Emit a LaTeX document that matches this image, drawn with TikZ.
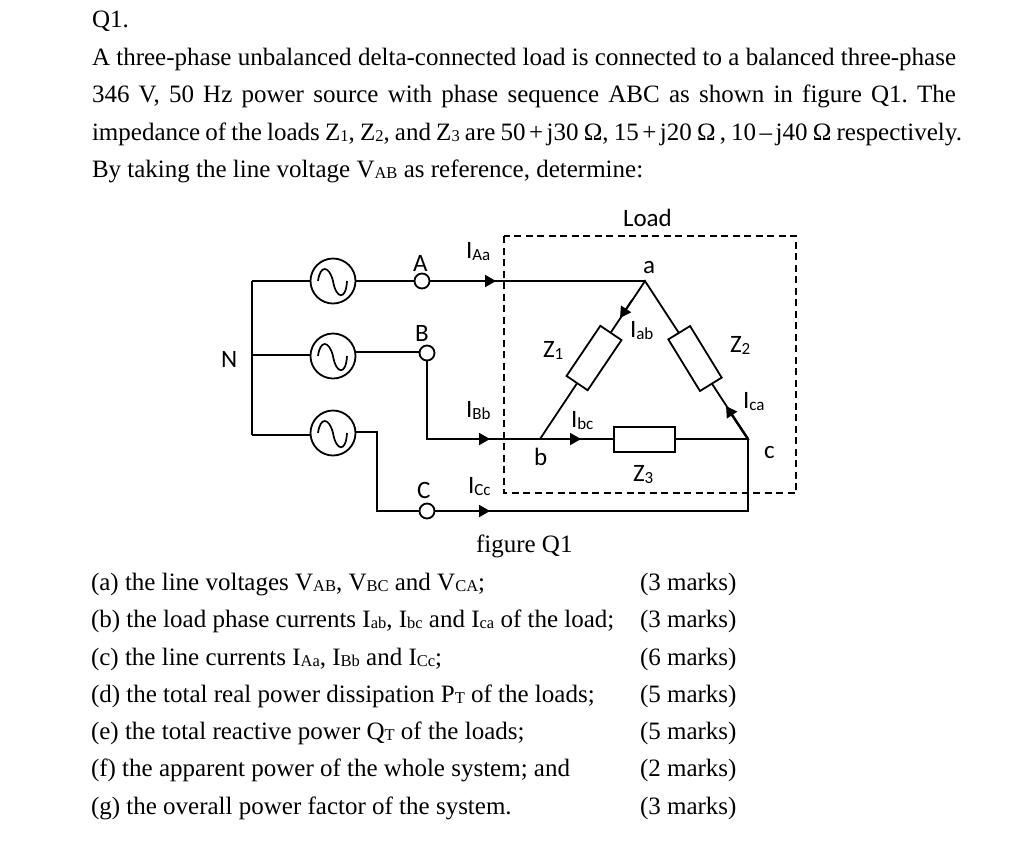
\documentclass[tikz,border=0pt]{standalone}
\usepackage{fontspec}
\setmainfont{Liberation Serif}
\newfontfamily\labelfont{Carlito}
\usetikzlibrary{arrows.meta}
\frenchspacing
\newcommand{\lowtxt}[1]{\raisebox{-1pt}{\fontsize{16.5}{16.5}\selectfont #1}}
\newcommand{\lowlab}[1]{\raisebox{-2.5pt}{\fontsize{17}{17}\selectfont #1}}
\newcommand{\js}[2]{\makebox[#1pt][s]{#2}}
\newcommand{\tsp}{\hspace{3.5pt}}
\tikzset{
  x=1pt,y=-1pt,
  body/.style={inner sep=0,outer sep=0,anchor=base west,font=\fontsize{25}{25}\selectfont},
  lab/.style={inner sep=0,outer sep=0,anchor=base west,font=\labelfont\fontsize{25}{25}\selectfont},
  wire/.style={line width=1.8pt,line join=miter},
  src/.style={draw,circle,line width=1.8pt,minimum size=45pt,inner sep=0,outer sep=0},
  term/.style={draw,circle,line width=1.8pt,minimum size=15pt,inner sep=0,outer sep=0,fill=white},
  res/.style={draw,rectangle,line width=1.8pt,inner sep=0,outer sep=0,fill=white},
  tipped/.style={line width=1.8pt,-{Triangle[length=11pt,width=12pt]}},
  sine/.style={line width=1.7pt},
  loadbox/.style={draw,line width=1.5pt,dash pattern=on 7pt off 4.5pt},
}
\begin{document}
\begin{tikzpicture}
\useasboundingbox (0,0) rectangle (1024,855);
\fill[white] (0,0) rectangle (1024,855);
% text
\node[body] (t0) at (92,27) {Q1.};
\node[body] (t1) at (92,65) {\js{864}{A three-phase unbalanced delta-connected load is connected to a balanced three-phase}};
\node[body] (t2) at (92,102) {\js{864}{346 V, 50 Hz power source with phase sequence ABC as shown in figure Q1. The}};
\node[body] (t3) at (92,140) {\spaceskip=5pt plus 5pt minus 2pt\js{870}{impedance of the loads Z\lowtxt{1}, Z\lowtxt{2}, and Z\lowtxt{3} are 50\tsp+\tsp j30 Ω, 15\tsp+\tsp j20 Ω\,, 10\tsp–\tsp j40 Ω respectively.}};
\node[body] (t4) at (92,177) {By taking the line voltage V\lowtxt{AB} as reference, determine:};
\node[body] (fig) at (476,552) {figure Q1};
\node[body] (qa) at (91,590) {(a) the line voltages V\lowtxt{AB}, V\lowtxt{BC} and V\lowtxt{CA};};
\node[body] (qb) at (91,627) {(b) the load phase currents I\lowtxt{ab}, I\lowtxt{bc} and I\lowtxt{ca} of the load;};
\node[body] (qc) at (91,665) {(c) the line currents I\lowtxt{Aa}, I\lowtxt{Bb} and I\lowtxt{Cc};};
\node[body] (qd) at (91,702) {(d) the total real power dissipation P\lowtxt{T} of the loads;};
\node[body] (qe) at (91,739) {(e) the total reactive power Q\lowtxt{T} of the loads;};
\node[body] (qf) at (91,776) {(f) the apparent power of the whole system; and};
\node[body] (qg) at (91,814) {(g) the overall power factor of the system.};
\node[body] (ma) at (640,590) {(3 marks)};
\node[body] (mb) at (640,627) {(3 marks)};
\node[body] (mc) at (640,665) {(6 marks)};
\node[body] (md) at (640,702) {(5 marks)};
\node[body] (me) at (640,739) {(5 marks)};
\node[body] (mf) at (640,776) {(2 marks)};
\node[body] (mg) at (640,814) {(3 marks)};
% load box
\draw[loadbox] (504,236) rectangle (796,493);
% junctions
\coordinate (busA) at (252,281);
\coordinate (busB) at (252,355);
\coordinate (busC) at (252,435);
\coordinate (a) at (645,281);
\coordinate (b) at (540,439);
\coordinate (c) at (748,439);
\coordinate (cd) at (748,511);
\coordinate (kC1) at (377,432);
\coordinate (kC2) at (377,511);
\coordinate (kB) at (427,439);
\coordinate (kBr) at (400,352);
% sources and terminals
\node[src] (sA) at (333,281) {};
\node[src] (sB) at (333,356) {};
\node[src] (sC) at (333,433) {};
\foreach \s in {sA,sB,sC}{
  \draw[sine] ([shift={(-15,0)}]\s.center) .. controls ([shift={(-13,-16)}]\s.center) and ([shift={(-4,-16)}]\s.center) .. ([shift={(0,0)}]\s.center)
     .. controls ([shift={(3,18)}]\s.center) and ([shift={(13,20)}]\s.center) .. ([shift={(14,0)}]\s.center);
}
\node[term] (tA) at (422,281) {};
\node[term] (tB) at (427,353) {};
\node[term] (tC) at (427,511) {};
% wires
\draw[wire] (busA) -- (busC);
\draw[wire] (busA) -- (sA.west);
\draw[wire] (busB) -- (sB.west |- busB);
\draw[wire] (busC) -- (sC.west |- busC);
\draw[wire] (sA.east) -- (tA.west);
\draw[wire] (sB.east |- kBr) -- (tB.west |- kBr);
\draw[wire] (tB.south) -- (kB) -- (b);
\draw[wire] (sC.east |- kC1) -- (kC1) -- (kC2) -- (tC.west);
\draw[wire] (tC.east) -- (kC2 -| cd) -- (cd) -- (c);
\draw[wire] (tA.east) -- (a);
% delta
\draw[wire] (a) -- (b) -- (c) -- cycle;
\node[res,minimum width=60.5pt,minimum height=25.5pt,rotate=56] (Z1) at (594,358) {};
\node[res,minimum width=60.5pt,minimum height=25.5pt,rotate=-58.5] (Z2) at (695,358.5) {};
\node[res,minimum width=60.5pt,minimum height=25.5pt] (Z3) at (644.5,439.5) {};
% arrows
\coordinate (arA0) at (470,281); \coordinate (arA1) at (496,281);
\coordinate (arB0) at (470,439); \coordinate (arB1) at (490,439);
\coordinate (arC0) at (470,511); \coordinate (arC1) at (490,511);
\coordinate (arbc0) at (555,439); \coordinate (arbc1) at (581,439);
\coordinate (arab0) at (632,300); \coordinate (arab1) at (620,318);
\coordinate (c2) at (726,406);
\draw[tipped] (arA0) -- (arA1);
\draw[tipped] (arB0) -- (arB1);
\draw[tipped] (arC0) -- (arC1);
\draw[tipped] (arbc0) -- (arbc1);
\draw[tipped] (arab0) -- (arab1);
\draw[tipped,line width=2.4pt] (c) -- (c2);
% labels
\node[lab] (lLoad) at (623,226) {Load};
\node[lab] (la) at (643,273) {a};
\node[lab] (lN) at (221,367) {N};
\node[lab] (lA) at (413,271) {A};
\node[lab] (lB) at (415,341) {B};
\node[lab] (lC) at (417,498) {C};
\node[lab] (lIA) at (466,258) {I\lowlab{Aa}};
\node[lab] (lIB) at (466,417) {I\lowlab{Bb}};
\node[lab] (lIC) at (468,493) {I\lowlab{Cc}};
\node[lab] (lZ1) at (543,357) {Z\lowlab{1}};
\node[lab] (lZ2) at (730,352) {Z\lowlab{2}};
\node[lab] (lZ3) at (633,481) {Z\lowlab{3}};
\node[lab] (lab) at (630,337) {I\lowlab{ab}};
\node[lab] (lbc) at (571,427) {I\lowlab{bc}};
\node[lab] (lca) at (743,408) {I\lowlab{ca}};
\node[lab] (lb) at (534,465) {b};
\node[lab] (lc) at (764,458) {c};
\end{tikzpicture}
\end{document}
